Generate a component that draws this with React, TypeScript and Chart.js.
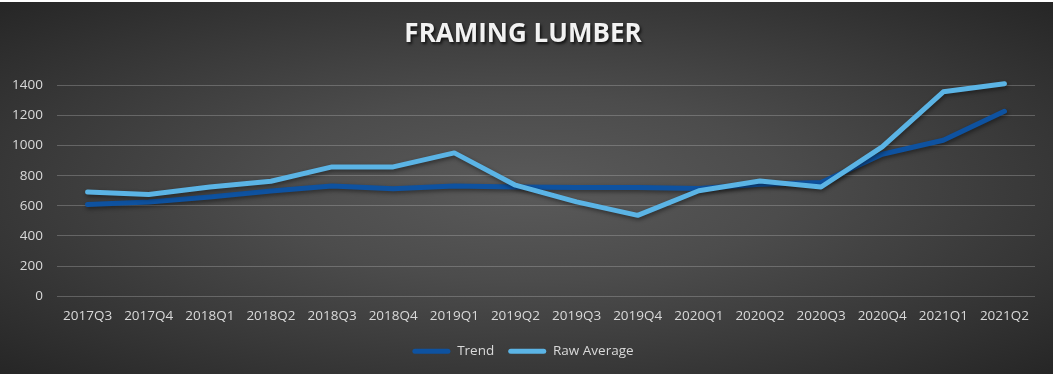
import React, { useEffect, useRef } from 'react';
import { Chart, registerables } from 'chart.js';

Chart.register(...registerables);

const categories = ['2017Q3', '2017Q4', '2018Q1', '2018Q2', '2018Q3', '2018Q4', '2019Q1', '2019Q2', '2019Q3', '2019Q4', '2020Q1', '2020Q2', '2020Q3', '2020Q4', '2021Q1', '2021Q2'];
const trendValues = [608, 626, 659, 699, 732, 714, 732, 725, 721, 721, 715, 743, 754, 942, 1035, 1227];
const rawAverageValues = [692, 675, 725, 763, 858, 858, 951, 737, 626, 537, 700, 765, 725, 991, 1356, 1410];
const seriesNames = ['Trend', 'Raw Average'];
const chartTitle = 'FRAMING LUMBER';

const FONT = "'Open Sans', 'Noto Sans', sans-serif";
const TEXT = '#d9d9d9';

const lineShadow = {
  id: 'lineShadow',
  beforeDatasetDraw(chart: any) {
    const c = chart.ctx;
    c.save();
    c.shadowColor = 'rgba(0,0,0,0.45)';
    c.shadowBlur = 4;
    c.shadowOffsetX = 1;
    c.shadowOffsetY = 2;
  },
  afterDatasetDraw(chart: any) {
    chart.ctx.restore();
  },
};

const titleShadow = {
  id: 'titleShadow',
  beforeDraw(chart: any) {
    const tb = chart.titleBlock;
    if (tb && !tb.__shadowed) {
      const orig = tb.draw.bind(tb);
      tb.draw = (...args: any[]) => {
        const c = chart.ctx;
        c.save();
        c.shadowColor = 'rgba(0,0,0,0.75)';
        c.shadowBlur = 3;
        c.shadowOffsetX = 1.5;
        c.shadowOffsetY = 1.5;
        orig(...args);
        c.restore();
      };
      tb.__shadowed = true;
    }
  },
};

export default function App() {
  const ref = useRef<HTMLCanvasElement>(null);

  useEffect(() => {
    document.body.style.margin = '0';
    document.body.style.background = '#ffffff';
    const chart = new Chart(ref.current as HTMLCanvasElement, {
      type: 'line',
      data: {
        labels: categories,
        datasets: [
          {
            label: seriesNames[0],
            data: trendValues,
            borderColor: '#0e52a0',
            backgroundColor: '#0e52a0',
            borderWidth: 5,
            pointRadius: 0,
            tension: 0,
            borderCapStyle: 'round',
            borderJoinStyle: 'round',
            clip: false,
            order: 2,
          },
          {
            label: seriesNames[1],
            data: rawAverageValues,
            borderColor: '#5bb4e5',
            backgroundColor: '#5bb4e5',
            borderWidth: 5,
            pointRadius: 0,
            tension: 0,
            borderCapStyle: 'round',
            borderJoinStyle: 'round',
            clip: false,
            order: 1,
          },
        ],
      },
      options: {
        responsive: false,
        animation: false,
        layout: { padding: { left: 11, right: 18, top: 0, bottom: 6 } },
        scales: {
          x: {
            offset: true,
            grid: { display: false, drawTicks: false },
            border: { display: false },
            ticks: { color: TEXT, font: { family: FONT, size: 13.5 }, padding: 12, maxRotation: 0, autoSkip: false },
            afterFit: (s: any) => {
              s.paddingLeft = 0;
              s.paddingRight = 0;
              s.height = s.height - 6;
            },
          },
          y: {
            min: 0,
            max: 1400,
            grid: { color: 'rgba(200,200,200,0.3)', lineWidth: 1, drawTicks: false },
            border: { display: false },
            ticks: {
              stepSize: 200,
              color: TEXT,
              font: { family: FONT, size: 13.5 },
              padding: 14,
              callback: (v: any) => String(v),
            },
            afterFit: (s: any) => {
              s.width = 46;
            },
          },
        },
        plugins: {
          title: {
            display: true,
            text: chartTitle,
            color: '#f2f2f2',
            font: { family: FONT, size: 26, weight: 'bold' },
            padding: { top: 17, bottom: 35 },
          },
          legend: {
            position: 'bottom',
            labels: {
              color: TEXT,
              font: { family: FONT, size: 13.5 },
              boxWidth: 38,
              boxHeight: 5,
              padding: 14,
              useBorderRadius: true,
              borderRadius: 2.5,
              sort: (a: any, b: any) => a.datasetIndex - b.datasetIndex,
              generateLabels: (ch: any) =>
                (Chart.defaults.plugins.legend.labels as any)
                  .generateLabels(ch)
                  .map((l: any) => ({ ...l, lineWidth: 0, fillStyle: l.strokeStyle })),
            },
          },
          tooltip: { enabled: false },
        },
      },
      plugins: [lineShadow, titleShadow],
    } as any);
    return () => chart.destroy();
  }, []);

  return (
    <div
      style={{
        position: 'absolute',
        left: 0,
        top: 2,
        width: 1053,
        height: 372,
        background: 'radial-gradient(ellipse farthest-corner at 50% 50%, #5a5a5a 0%, #4c4c4c 35%, #262626 100%)',
      }}
    >
      <canvas ref={ref} width={1053} height={372} style={{ display: 'block' }} />
    </div>
  );
}
